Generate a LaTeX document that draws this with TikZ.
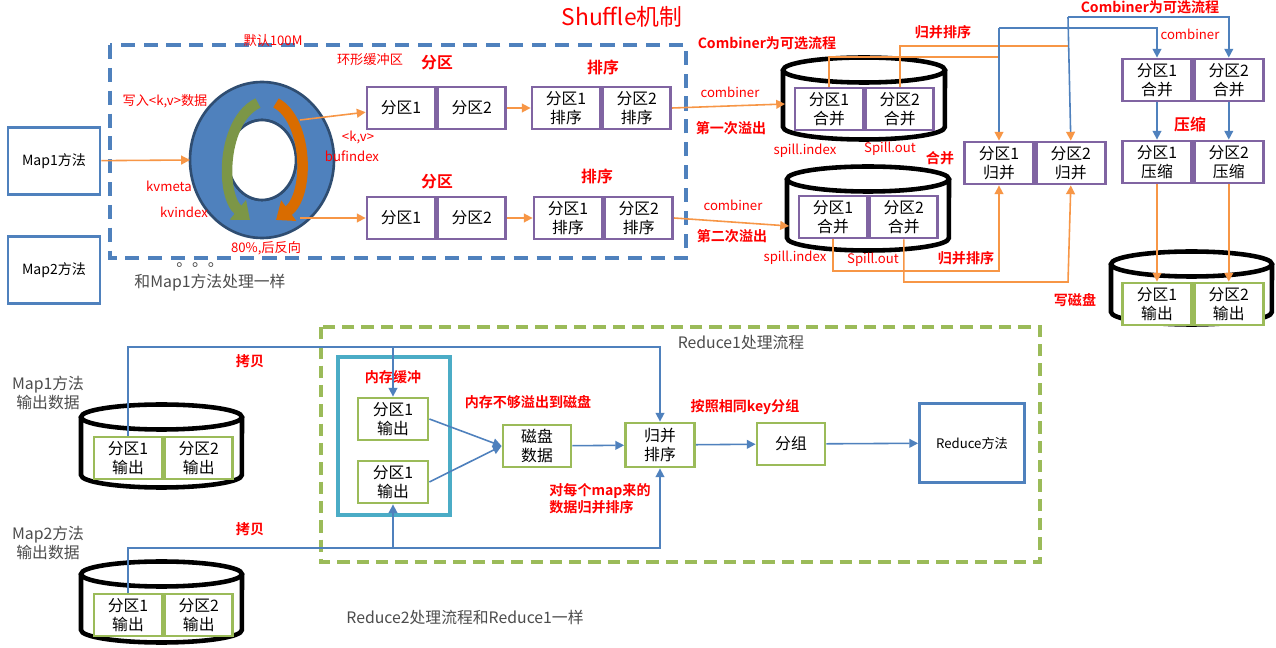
\documentclass[tikz,border=0pt]{standalone}
\usepackage{fontspec}
\setmainfont{Noto Sans CJK SC}[BoldFont={Noto Sans CJK SC Bold}]
\usetikzlibrary{positioning,arrows.meta}
\definecolor{purp}{HTML}{8064A2}
\definecolor{grn}{HTML}{9BBB59}
\definecolor{blu}{HTML}{4F81BD}
\definecolor{orng}{HTML}{F79646}
\definecolor{cyanb}{HTML}{4BACC6}
\tikzset{
  cell/.style={draw=#1,line width=1.6pt,fill=white,minimum width=1.36cm,minimum height=0.84cm,
    inner sep=0pt,align=center,font=\fontsize{9}{10.5}\selectfont},
  cell/.default=purp,
  lbl/.style={text=red,font=\fontsize{8}{9.5}\selectfont\bfseries},
  rtxt/.style={text=red,font=\fontsize{7.5}{9}\selectfont},
  gtxt/.style={text=black!70,font=\fontsize{9}{10.5}\selectfont},
  oarr/.style={orng,line width=0.9pt,-{Triangle[length=5pt,width=5pt]}},
  barr/.style={blu,line width=0.9pt,-{Triangle[length=5pt,width=5pt]}},
}
% drum: left x, right x, top y, bottom y (in px)
\newcommand\drum[4]{%
  \draw[line width=2.6pt,fill=white] (#1,#3) -- (#1,#4)
    arc[start angle=180,end angle=360,x radius={(#2-#1)*0.01cm},y radius=0.25cm] -- (#2,#3);
  \draw[line width=2.6pt,fill=white] ({(#1+#2)/2},#3) ellipse[x radius={(#2-#1)*0.01cm},y radius=0.25cm];
}
\begin{document}
\begin{tikzpicture}[x=0.02cm,y=-0.02cm]
\useasboundingbox[fill=white] (0,0) rectangle (1276,648);

\node[text=red,font=\fontsize{13}{15}\selectfont] (title) at (622,17) {Shuffle机制};

% map side
\draw[blu,line width=2pt,dash pattern=on 8pt off 5pt] (110,45) rectangle (686,258);
\node[cell=blu,minimum width=1.84cm,minimum height=1.34cm,font=\fontsize{8}{9}\selectfont] (map1) at (54,161) {Map1方法};
\node[cell=blu,minimum width=1.84cm,minimum height=1.34cm,font=\fontsize{8}{9}\selectfont] (map2) at (54,270) {Map2方法};

% ring buffer
\fill[blu,draw=blu!60!black,line width=1.5pt,even odd rule] (262,160) ellipse[x radius=1.44cm,y radius=1.56cm]
  (262,160) ellipse[x radius=0.68cm,y radius=0.8cm];
\fill[white,draw=blu!60!black,line width=1.5pt] (262,160) ellipse[x radius=0.68cm,y radius=0.8cm];
\coordinate (ring) at (190,160);
\draw[line width=6pt,draw=grn!80!black,-{Triangle[length=9pt,width=14pt]}] (258,103) .. controls (222,120) and (220,195) .. (250,220);
\draw[line width=6pt,draw=orange!85!black,-{Triangle[length=9pt,width=14pt]}] (276,103) .. controls (308,120) and (310,195) .. (276,220);

\node[rtxt] (t100) at (273,41) {默认100M};
\node[rtxt] (tring) at (370,60) {环形缓冲区};
\node[rtxt] (twrite) at (165,101) {写入<k,v>数据};
\node[rtxt] (tkv) at (358,138) {<k,v>};
\node[rtxt] (tbuf) at (352,156) {bufindex};
\node[rtxt] (tmeta) at (169,186) {kvmeta};
\node[rtxt] (tidx) at (184,212) {kvindex};
\node[rtxt] (t80) at (266,248) {80\%,后反向};
\node[gtxt] (dots) at (200,265) {。。。};
\node[gtxt] (same) at (210,283) {和Map1方法处理一样};

\draw[oarr] (map1) -- (ring);

% partition and sort
\node[lbl,font=\fontsize{9}{10}\selectfont\bfseries] (h1) at (437,63) {分区};
\node[lbl,font=\fontsize{9}{10}\selectfont\bfseries] (h2) at (603,67) {排序};
\node[lbl,font=\fontsize{9}{10}\selectfont\bfseries] (h3) at (437,182) {分区};
\node[lbl,font=\fontsize{9}{10}\selectfont\bfseries] (h4) at (597,176) {排序};
\node[cell] (p1a) at (401,108) {分区1};
\node[cell,right=0pt of p1a] (p1b) {分区2};
\node[cell] (s1a) at (566,108) {分区1\\排序};
\node[cell,right=0pt of s1a] (s1b) {分区2\\排序};
\node[cell] (p2a) at (401,218) {分区1};
\node[cell,right=0pt of p2a] (p2b) {分区2};
\node[cell] (s2a) at (568,218) {分区1\\排序};
\node[cell,right=0pt of s2a] (s2b) {分区2\\排序};
\draw[oarr] (300,120) -- (p1a);
\draw[oarr] (300,218) -- (p2a);
\draw[oarr] (p1b) -- (s1a);
\draw[oarr] (p2b) -- (s2a);

% spills
\drum{783}{945}{70}{127}
\drum{787}{949}{179}{238}
\node[cell] (c1a) at (829,109) {分区1\\合并};
\node[cell,right=0pt of c1a] (c1b) {分区2\\合并};
\node[cell] (c2a) at (833,217) {分区1\\合并};
\node[cell,right=0pt of c2a] (c2b) {分区2\\合并};
\draw[oarr] (s1b.east) -- (785,104);
\draw[oarr] (s2b.east) -- (789,226);
\node[rtxt] (cb1) at (730,92) {combiner};
\node[lbl] (sp1) at (731,128) {第一次溢出};
\node[rtxt] (cb2) at (733,205) {combiner};
\node[lbl] (sp2) at (732,236) {第二次溢出};
\node[lbl] (opt1) at (767,43) {Combiner为可选流程};
\node[rtxt] (si1) at (805,151) {spill.index};
\node[rtxt] (so1) at (890,149) {Spill.out};
\node[rtxt] (si2) at (795,258) {spill.index};
\node[rtxt] (so2) at (873,260) {Spill.out};

% merge
\node[cell,minimum width=1.38cm] (ma) at (999,163) {分区1\\归并};
\node[cell,minimum width=1.38cm,right=0pt of ma] (mb) {分区2\\归并};
\node[lbl] (hm) at (940,158) {合并};
\node[lbl] (ms1) at (943,32) {归并排序};
\node[lbl] (ms2) at (966,258) {归并排序};
\coordinate (k1) at (999,57);
\coordinate (k1u) at (999,28);
\coordinate (k2) at (1068,46);
\coordinate (k2u) at (1068,17);
\coordinate (j1) at (999,271);
\coordinate (j2) at (1068,282);
\draw[orng,line width=0.9pt] (c1a.north) |- (k1);
\draw[orng,line width=0.9pt] (c1b.north) |- (k2);
\draw[blu,line width=0.9pt,-{Triangle[length=5pt,width=5pt,color=orng]}] (k1u) -- (ma.north);
\draw[blu,line width=0.9pt,-{Triangle[length=5pt,width=5pt,color=orng]}] (k2u) -- (mb.north);
\draw[oarr] (c2a.south) |- (j1) -- (ma.south);
\draw[oarr] (c2b.south) |- (j2) -- (mb.south);

% combiner, compress, output
\node[cell,minimum width=1.38cm] (cba) at (1157,80) {分区1\\合并};
\node[cell,minimum width=1.38cm,right=0pt of cba] (cbb) {分区2\\合并};
\node[cell,minimum width=1.38cm] (za) at (1157,162) {分区1\\压缩};
\node[cell,minimum width=1.38cm,right=0pt of za] (zb) {分区2\\压缩};
\draw[barr] (k1u) -| (cba.north);
\draw[barr] (k2u) -| (cbb.north);
\draw[barr] (cba) -- (za);
\draw[barr] (cbb) -- (zb);
\node[lbl] (opt2) at (1150,7) {Combiner为可选流程};
\node[rtxt] (cb3) at (1190,34) {combiner};
\node[lbl,font=\fontsize{9}{10}\selectfont\bfseries] (hz) at (1190,124) {压缩};
\drum{1111}{1272}{264}{312}
\node[cell=grn,minimum width=1.38cm] (oa) at (1157,304) {分区1\\输出};
\node[cell=grn,minimum width=1.38cm,right=0pt of oa] (ob) {分区2\\输出};
\draw[oarr] (za) -- (oa);
\draw[oarr] (zb) -- (ob);
\node[lbl] (wd) at (1075,300) {写磁盘};

% reduce side
\draw[grn,line width=2pt,dash pattern=on 7pt off 4pt] (321,327) rectangle (1040,562);
\node[gtxt] (r1) at (741,343) {Reduce1处理流程};
\node[gtxt,align=center] (o1) at (48,393) {Map1方法\\输出数据};
\node[gtxt,align=center] (o2) at (48,543) {Map2方法\\输出数据};
\drum{81}{242}{417}{475}
\drum{81}{242}{574}{630}
\node[cell=grn] (b1a) at (128,458) {分区1\\输出};
\node[cell=grn,right=0pt of b1a] (b1b) {分区2\\输出};
\node[cell=grn] (b2a) at (128,615) {分区1\\输出};
\node[cell=grn,right=0pt of b2a] (b2b) {分区2\\输出};

\draw[cyanb,line width=2pt] (338,357) rectangle (450,515);
\node[lbl] (mbuf) at (393,377) {内存缓冲};
\node[cell=grn,minimum width=1.4cm] (mem1) at (393,419) {分区1\\输出};
\node[cell=grn,minimum width=1.4cm] (mem2) at (393,482) {分区1\\输出};
\node[cell=grn] (disk) at (537,446) {磁盘\\数据};
\node[cell=grn,minimum width=1.38cm,minimum height=0.88cm] (merge) at (660,445) {归并\\排序};
\node[cell=grn] (group) at (791,444) {分组};
\node[cell=blu,minimum width=2.1cm,minimum height=1.58cm,font=\fontsize{7.5}{9}\selectfont] (red) at (972,443) {Reduce方法};

\node[lbl] (cp1) at (250,361) {拷贝};
\node[lbl] (cp2) at (250,529) {拷贝};
\node[lbl] (ovf) at (528,402) {内存不够溢出到磁盘};
\node[lbl] (grp) at (745,407) {按照相同key分组};
\node[lbl,align=left] (eachm) at (600,499) {对每个map来的\\数据归并排序};
\node[gtxt] (r2) at (465,617) {Reduce2处理流程和Reduce1一样};

\coordinate (t1) at (393,347);
\coordinate (t2) at (393,548);
\draw[blu,line width=0.9pt] (b1a.north) |- (t1);
\draw[barr] (t1) -- (mem1.north);
\draw[barr] (t1) -| (merge.north);
\draw[blu,line width=0.9pt] (b2a.north) |- (t2);
\draw[barr] (t2) -- (mem2.south);
\draw[barr] (t2) -| (merge.south);
\draw[barr] (mem1.east) -- (disk.west);
\draw[barr] (mem2.east) -- (disk.west);
\draw[barr] (disk) -- (merge);
\draw[barr] (merge) -- (group);
\draw[barr] (group) -- (red);
\end{tikzpicture}
\end{document}
